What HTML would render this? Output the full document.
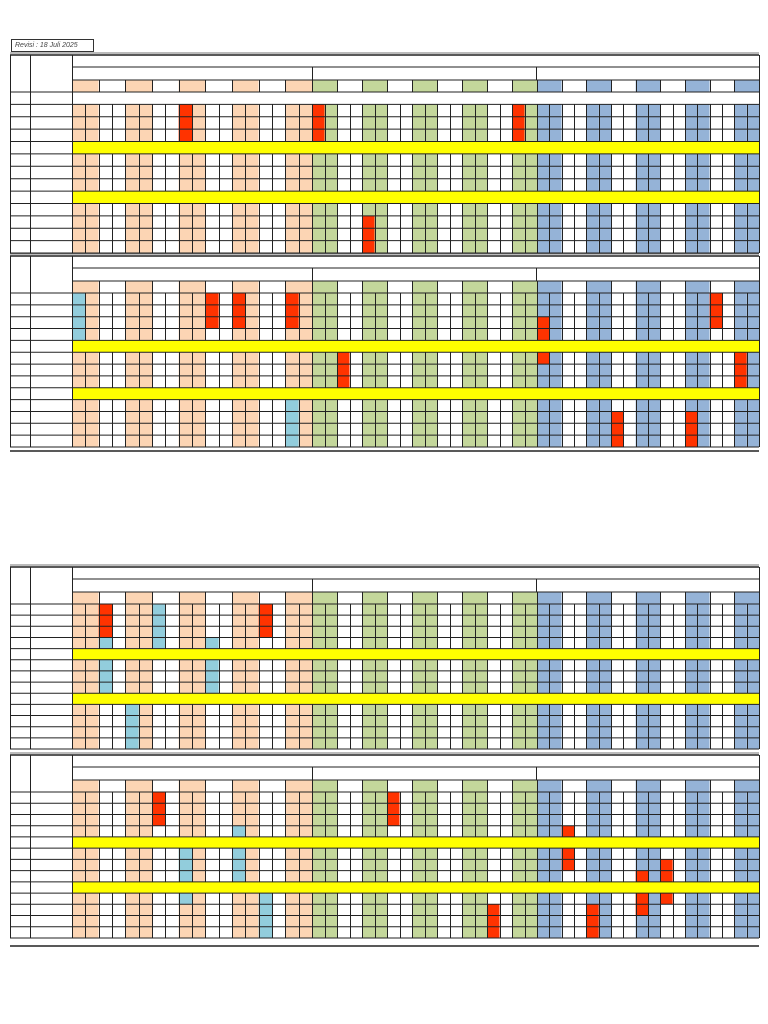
<!DOCTYPE html>
<html><head><meta charset="utf-8">
<style>
html,body{margin:0;padding:0;background:#fff;}
#wrap{position:relative;width:768px;height:1024px;overflow:hidden;}
#revisi{position:absolute;left:11px;top:39px;width:78px;height:11px;border:1px solid #333;font:italic 7px "Liberation Sans",sans-serif;color:#444;line-height:11px;padding-left:3px;box-sizing:content-box;}
svg{position:absolute;left:0;top:0;}
</style></head>
<body>
<div id="wrap">
<div id="revisi">Revisi : 18 Juli 2025</div>
<svg id="sv" width="768" height="1024"></svg>
</div>
<script>
// block vertical geometry (header boundaries, data area start/end)
const blockTops = [55, 256, 567, 755];
const blockDataEnd = [253, 447, 749, 938];
const layoutA = ['w','d','d','d','y','d','d','d','y','d','d','d','d'];
const layoutB = ['d','d','d','d','y','d','d','d','y','d','d','d','d'];
const blockLayouts = [layoutA, layoutB, layoutB, layoutB];
const groupEdges = [72, 312, 537, 759];
const groupColors = ['#FCD5B4', '#C4D79B', '#95B3D7'];
// marks: [block, column, firstDataRow, lastDataRow, kind]
const markBlock = [0,0,0,0, 1,1,1,1,1,1,1,1,1,1,1, 2,2,2,2,2,2, 3,3,3,3,3,3,3,3,3,3];
const markCol   = [8,18,34,22, 0,10,12,16,20,16,36,50,52,42,48, 2,2,6,10,14,4, 6,12,8,14,24,32,38,44,46,40];
const markFrom  = [0,0,0,7, 0,0,0,0,4,7,2,0,4,8,8, 0,3,0,3,0,7, 0,3,4,7,0,8,3,6,5,8];
const markTo    = [2,2,2,9, 3,2,2,2,6,10,4,2,6,10,10, 2,6,3,6,2,10, 2,6,7,10,2,10,5,8,7,10];
const markKind  = ['r','r','r','r', 'c','r','r','r','r','c','r','r','r','r','r', 'r','c','c','c','r','c', 'r','c','c','c','r','r','r','r','r','r'];

const NS='http://www.w3.org/2000/svg';
const sv=document.getElementById('sv');
function mk(tag,attrs,name){const e=document.createElementNS(NS,tag);for(const k in attrs)e.setAttribute(k,attrs[k]);


sv.appendChild(e);return e;}
function colX(c){const g=Math.floor(c/18);const w=(groupEdges[g+1]-groupEdges[g])/18;return groupEdges[g]+(c%18)*w;}
function colW(c){const g=Math.floor(c/18);return (groupEdges[g+1]-groupEdges[g])/18;}
function colFill(c){const g=Math.floor(c/18);return (Math.floor((c%18)/2)%2===0)?groupColors[g]:'#fff';}
const LN='#222';
function line(x1,y1,x2,y2,name,w,col){mk('line',{x1:x1,y1:y1,x2:x2,y2:y2,stroke:col||LN,'stroke-width':w||1},name);}

blockTops.forEach((top,b)=>{
  const hy=[top,top+12,top+25,top+37];
  const lay=blockLayouts[b];
  const rowH=(blockDataEnd[b]-hy[3])/lay.length;
  const rowY=[];for(let i=0;i<=lay.length;i++)rowY.push(hy[3]+i*rowH);
  // header color row
  for(let k=0;k<27;k++){const c=k*2;const x=colX(c),w=colW(c)*2;
    mk('rect',{x:x,y:hy[2],width:w,height:hy[3]-hy[2],fill:colFill(c)},'header-cell');}
  // data rows
  let di=0;const dataRowIdx=[];
  lay.forEach((t,i)=>{const y=rowY[i],h=rowH;
    if(t==='y'){mk('rect',{x:72,y:y,width:687,height:h,fill:'#FFFF00'},'separator-row');dataRowIdx.push(-1);}
    else if(t==='d'){for(let c=0;c<54;c++)mk('rect',{x:colX(c),y:y,width:colW(c),height:h,fill:colFill(c)},'schedule-cell');dataRowIdx.push(di++);}
    else dataRowIdx.push(-1);
  });
  // marks
  for(let m=0;m<markBlock.length;m++){if(markBlock[m]!==b)continue;
    for(let i=0;i<lay.length;i++){const d=dataRowIdx[i];if(d<markFrom[m]||d>markTo[m]||d<0)continue;
      mk('rect',{x:colX(markCol[m]),y:rowY[i],width:colW(markCol[m]),height:rowH,fill:markKind[m]==='r'?'#FF3300':'#92CDDC'},markKind[m]==='r'?'red-mark':'cyan-mark');}
  }
  // grid lines
  // horizontal header
  line(10,top,759,top,'block-top-line',1.5);
  line(72,hy[1],759,hy[1],'header-line');
  line(72,hy[2],759,hy[2],'header-line');
  line(10,hy[3],759,hy[3],'header-line');
  lay.forEach((t,i)=>{line(10,rowY[i+1],759,rowY[i+1],'row-line');
    if(t==='d'){for(let c=1;c<54;c++){const x=Math.round(colX(c))+0.5;line(x,rowY[i],x,rowY[i+1],'col-line');}}
  });
  // header verticals
  for(let k=1;k<27;k++){const x=Math.round(colX(k*2))+0.5;line(x,hy[2],x,hy[3],'col-line');}
  line(312.5,hy[1],312.5,hy[2],'group-line');line(536.5,hy[1],536.5,hy[2],'group-line');
  // left and outer verticals
  [10.5,30.5,72.5,759.5].forEach(x=>line(x,top,x,blockDataEnd[b],'frame-line'));
});
// top double lines and bottom lines
line(10,53,759,53,'top-double-line',1,'#777');
line(10,254,759,254,'divider-line',1,'#777');
line(10,451,759,451,'bottom-line',1.5);
line(10,565,759,565,'top-double-line',1,'#777');
line(10,753,759,753,'divider-line',1,'#777');
line(10,946,759,946,'bottom-line',1.5);
</script>
</body></html>
